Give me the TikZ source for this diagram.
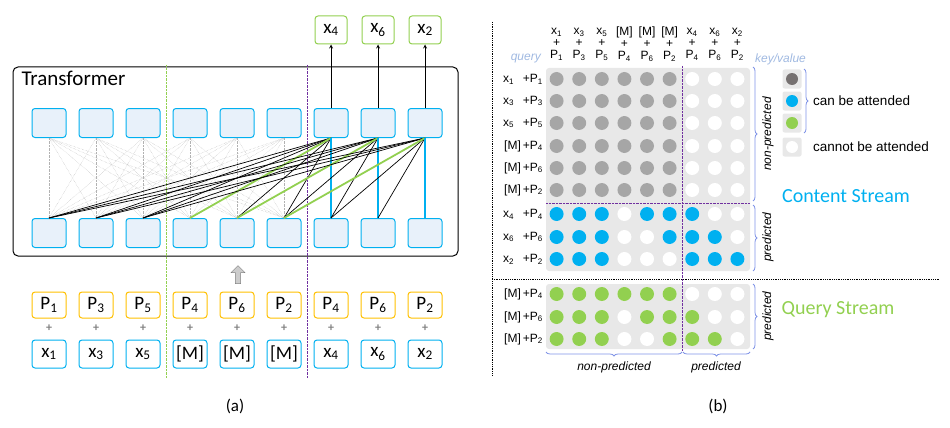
\documentclass[tikz,border=0pt]{standalone}
\usepackage{fontspec}
\setmainfont{Carlito}
\newfontfamily\arialf{Liberation Sans}
\usetikzlibrary{positioning, arrows, decorations.pathreplacing, shapes.arrows}
\definecolor{cblue}{RGB}{0,176,240}
\definecolor{cgreen}{RGB}{146,208,80}
\definecolor{cyel}{RGB}{255,192,0}
\definecolor{cfill}{RGB}{232,241,250}
\definecolor{cgray}{RGB}{166,166,166}
\definecolor{cdark}{RGB}{118,113,113}
\definecolor{cpurple}{RGB}{112,48,160}
\definecolor{clight}{RGB}{160,185,225}
\newcommand\sbs[2]{#1\textsubscript{#2}}

\begin{document}
\begin{tikzpicture}[x=1pt,y=-1pt]
        \tikzstyle{cell} = [rectangle, rounded corners=3pt, minimum width=34pt, minimum height=29pt, draw=cblue, line width=1pt, fill=cfill]
        \tikzstyle{posbox} = [rectangle, rounded corners=3pt, minimum width=34pt, minimum height=26pt, draw=cyel, line width=1pt, font=\fontsize{19}{20}\selectfont, inner sep=0pt]
        \tikzstyle{tok} = [rectangle, rounded corners=3pt, minimum width=34pt, minimum height=28pt, draw=cblue, line width=1pt, font=\fontsize{19}{20}\selectfont, inner sep=0pt]
        \tikzstyle{outbox} = [rectangle, rounded corners=3pt, minimum width=32pt, minimum height=28pt, draw=cgreen, line width=1pt, font=\fontsize{19}{20}\selectfont, inner sep=0pt]
        \tikzstyle{arrow} = [thick,->,>=stealth]
        \tikzstyle{att} = [line width=0.7pt]
        \tikzstyle{dot} = [circle, minimum size=14pt, inner sep=0pt]
        \tikzstyle{lab} = [font=\arialf\fontsize{12}{13}\selectfont, inner sep=0pt]
        \tikzstyle{ital} = [font=\arialf\itshape\fontsize{12}{13}\selectfont, inner sep=0pt]
        \useasboundingbox (0,0) rectangle (950,428);

        % (a) two-stream transformer
        \node (frame) [draw, rounded corners=5pt, line width=1pt, minimum width=445pt, minimum height=189pt] at (235.5,161.5) {};
        \node [anchor=north west, font=\fontsize{21}{22}\selectfont] at (18,68) {Transformer};
        \draw [cgreen, densely dotted] (166,65) -- (166,378);
        \draw [cpurple, densely dotted] (307,65) -- (307,378);

        \foreach \i/\p/\x [count=\k] in {1/1/\sbs{x}{1}, 2/3/\sbs{x}{3}, 3/5/\sbs{x}{5}, 4/4/[M], 5/6/[M], 6/2/[M], 7/4/\sbs{x}{4}, 8/6/\sbs{x}{6}, 9/2/\sbs{x}{2}} {
            \node (t\i) [cell] at (2+47*\i,123) {};
            \node (b\i) [cell] at (2+47*\i,233) {};
            \node (p\i) [posbox] at (2+47*\i,305) {\sbs{P}{\p}};
            \node (e\i) [tok] at (2+47*\i,354) {\x};
            \node (s\i) [font=\bfseries\large, text=gray] at (2+47*\i,328) {+};
        }
        \foreach \i/\x in {7/4, 8/6, 9/2} {
            \node (o\i) [outbox] at (2+47*\i,30) {\sbs{x}{\x}};
            \draw [arrow] (t\i) -- (o\i);
        }
        \node (up) [single arrow, draw=gray, fill=gray!40, shape border rotate=90, minimum height=18pt, minimum width=14pt, single arrow head extend=2pt, inner sep=1pt] at (238,276) {};

        \foreach \i in {1,...,6}
            \foreach \j in {1,...,6}
                \draw [gray!60, densely dotted, line width=0.4pt] (b\i.north) -- (t\j.south);
        \foreach \q/\g/\a/\b in {7/4/5/6, 8/5/6/7, 9/6/7/8} {
            \foreach \j in {1,2,3,\a,\b}
                \draw [att] (b\j.north) -- (t\q.south);
            \draw [cgreen, line width=1.8pt] (b\g.north) -- (t\q.south);
            \draw [cblue, line width=1.8pt] (b\q.north) -- (t\q.south);
        }

        % (b) attention masks
        \draw [densely dotted, thick] (492,22) -- (492,376);
        \draw [densely dotted, thick] (492,279) -- (940,279);
        \fill [gray!18, rounded corners=3pt] (546,68) rectangle (750,271);
        \fill [gray!18, rounded corners=3pt] (546,284) rectangle (750,349);
        \draw [cpurple, densely dotted] (682,66) -- (682,351);
        \draw [cpurple, densely dotted] (546,203) -- (750,203);

        \foreach \h/\p [count=\c] in {\sbs{x}{1}/1, \sbs{x}{3}/3, \sbs{x}{5}/5, [M]/4, [M]/6, [M]/2, \sbs{x}{4}/4, \sbs{x}{6}/6, \sbs{x}{2}/2}
            \node (h\c) [lab, align=center] at (534+22.6*\c,44) {\h\\[-1pt]+\\[-1pt]\sbs{P}{\p}};
        \node (qh) [ital, text=clight, anchor=east] at (541,59) {query};
        \node (kh) [ital, text=clight, anchor=west] at (755,59) {key/value};

        \foreach \r/\l/\p/\y/\on in {
            1/\sbs{x}{1}\ \ /1/79/{1,2,3,4,5,6},
            2/\sbs{x}{3}\ \ /3/101/{1,2,3,4,5,6},
            3/\sbs{x}{5}\ \ /5/123/{1,2,3,4,5,6},
            4/[M]/4/146/{1,2,3,4,5,6},
            5/[M]/6/168/{1,2,3,4,5,6},
            6/[M]/2/190/{1,2,3,4,5,6}} {
            \node (r\r) [lab, anchor=east] at (543,\y) {\l\,+\sbs{P}{\p}};
            \foreach \c in {1,...,9}
                \node (m\r-\c) [dot, fill=white] at (534+22.6*\c,\y) {};
            \foreach \c in \on
                \node (m\r-\c) [dot, fill=cgray] at (534+22.6*\c,\y) {};
        }
        \foreach \r/\l/\p/\y/\on/\col in {
            7/\sbs{x}{4}\ \ /4/214/{1,2,3,5,6,7}/cblue,
            8/\sbs{x}{6}\ \ /6/237/{1,2,3,6,7,8}/cblue,
            9/\sbs{x}{2}\ \ /2/259/{1,2,3,7,8,9}/cblue,
            10/[M]/4/294/{1,2,3,4,5,6}/cgreen,
            11/[M]/6/317/{1,2,3,5,6,7}/cgreen,
            12/[M]/2/339/{1,2,3,6,7,8}/cgreen} {
            \node (r\r) [lab, anchor=east] at (543,\y) {\l\,+\sbs{P}{\p}};
            \foreach \c in {1,...,9}
                \node (m\r-\c) [dot, fill=white] at (534+22.6*\c,\y) {};
            \foreach \c in \on
                \node (m\r-\c) [dot, fill=\col] at (534+22.6*\c,\y) {};
        }

        % braces
        \tikzstyle{brace} = [decorate, decoration={brace, amplitude=4pt}, clight!80!blue, line width=0.8pt]
        \draw [brace] (753,67) -- (753,201);
        \draw [brace] (753,205) -- (753,271);
        \draw [brace] (753,284) -- (753,349);
        \draw [brace] (682,352) -- (546,352);
        \draw [brace] (750,352) -- (683,352);
        \node (np1) [ital, rotate=90] at (768,134) {non-predicted};
        \node (pr1) [ital, rotate=90] at (768,237) {predicted};
        \node (pr2) [ital, rotate=90] at (768,316) {predicted};
        \node (np2) [ital] at (614,367) {non-predicted};
        \node (pr3) [ital] at (716,367) {predicted};

        % legend
        \foreach \y/\col [count=\k] in {79/cdark, 101/cblue, 123/cgreen, 147/white} {
            \node (g\k) [fill=gray!18, rounded corners=2pt, minimum size=19pt] at (792,\y) {};
            \node (gd\k) [dot, fill=\col, minimum size=12pt] at (792,\y) {};
        }
        \draw [brace] (804,69) -- (804,133);
        \node (can) [lab, anchor=west, font=\arialf\fontsize{13.5}{14}\selectfont] at (813,101) {can be attended};
        \node (cannot) [lab, anchor=west, font=\arialf\fontsize{13.5}{14}\selectfont] at (813,147) {cannot be attended};
        \node (cs) [text=cblue, font=\fontsize{20}{21}\selectfont] at (846,196) {Content Stream};
        \node (qs) [text=cgreen, font=\fontsize{20}{21}\selectfont] at (838,310) {Query Stream};

        \node (ca) [font=\fontsize{17}{18}\selectfont] at (235,406) {(a)};
        \node (cb) [font=\fontsize{17}{18}\selectfont] at (718,406) {(b)};
    \end{tikzpicture}
\end{document}
